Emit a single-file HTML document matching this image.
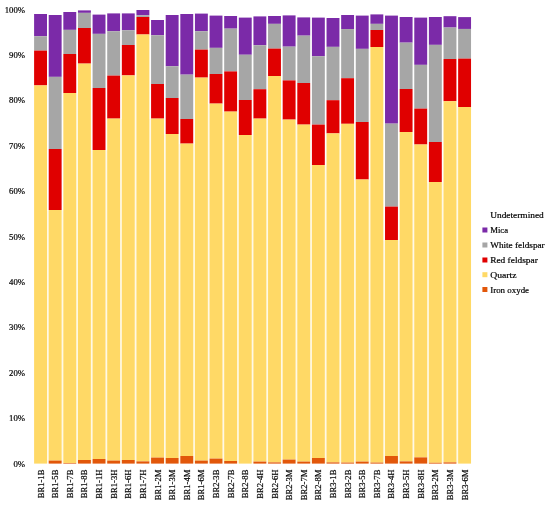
<!DOCTYPE html><html><head><meta charset="utf-8"><title>Chart</title><style>html,body{margin:0;padding:0;background:#fff}svg{display:block}text{font-family:"Liberation Serif",serif;fill:#000;stroke:#000;stroke-width:0.2px}</style></head><body>
<svg width="550" height="505" viewBox="0 0 550 505">
<rect width="550" height="505" fill="#fff"/>
<rect x="46.80" y="210.50" width="2.12" height="252.80" fill="#fff9e6"/>
<rect x="61.42" y="210.50" width="2.12" height="252.80" fill="#fff9e6"/>
<rect x="76.04" y="93.50" width="2.12" height="369.80" fill="#fff9e6"/>
<rect x="90.67" y="150.50" width="2.12" height="312.80" fill="#fff9e6"/>
<rect x="105.29" y="150.50" width="2.12" height="312.80" fill="#fff9e6"/>
<rect x="119.91" y="119.10" width="2.12" height="344.20" fill="#fff9e6"/>
<rect x="134.53" y="75.90" width="2.12" height="387.40" fill="#fff9e6"/>
<rect x="149.15" y="119.10" width="2.12" height="344.20" fill="#fff9e6"/>
<rect x="163.78" y="134.50" width="2.12" height="328.80" fill="#fff9e6"/>
<rect x="178.40" y="144.10" width="2.12" height="319.20" fill="#fff9e6"/>
<rect x="193.02" y="144.10" width="2.12" height="319.20" fill="#fff9e6"/>
<rect x="207.64" y="104.10" width="2.12" height="359.20" fill="#fff9e6"/>
<rect x="222.26" y="112.10" width="2.12" height="351.20" fill="#fff9e6"/>
<rect x="236.89" y="135.50" width="2.12" height="327.80" fill="#fff9e6"/>
<rect x="251.51" y="135.50" width="2.12" height="327.80" fill="#fff9e6"/>
<rect x="266.13" y="119.10" width="2.12" height="344.20" fill="#fff9e6"/>
<rect x="280.75" y="120.10" width="2.12" height="343.20" fill="#fff9e6"/>
<rect x="295.37" y="125.10" width="2.12" height="338.20" fill="#fff9e6"/>
<rect x="310.00" y="165.50" width="2.12" height="297.80" fill="#fff9e6"/>
<rect x="324.62" y="165.50" width="2.12" height="297.80" fill="#fff9e6"/>
<rect x="339.24" y="133.90" width="2.12" height="329.40" fill="#fff9e6"/>
<rect x="353.86" y="180.00" width="2.12" height="283.30" fill="#fff9e6"/>
<rect x="368.48" y="180.00" width="2.12" height="283.30" fill="#fff9e6"/>
<rect x="383.11" y="240.50" width="2.12" height="222.80" fill="#fff9e6"/>
<rect x="397.73" y="240.50" width="2.12" height="222.80" fill="#fff9e6"/>
<rect x="412.35" y="145.00" width="2.12" height="318.30" fill="#fff9e6"/>
<rect x="426.97" y="182.50" width="2.12" height="280.80" fill="#fff9e6"/>
<rect x="441.59" y="182.50" width="2.12" height="280.80" fill="#fff9e6"/>
<rect x="456.22" y="107.50" width="2.12" height="355.80" fill="#fff9e6"/>
<rect x="34.10" y="14.00" width="12.9" height="22.25" fill="#7b2aa8"/>
<rect x="34.10" y="36.25" width="12.9" height="14.35" fill="#a6a6a6"/>
<rect x="34.10" y="50.60" width="12.9" height="34.80" fill="#e00000"/>
<rect x="34.10" y="85.40" width="12.9" height="378.20" fill="#ffd966"/>
<rect x="48.72" y="15.00" width="12.9" height="61.85" fill="#7b2aa8"/>
<rect x="48.72" y="76.85" width="12.9" height="72.15" fill="#a6a6a6"/>
<rect x="48.72" y="149.00" width="12.9" height="61.00" fill="#e00000"/>
<rect x="48.72" y="210.00" width="12.9" height="250.60" fill="#ffd966"/>
<rect x="48.72" y="460.60" width="12.9" height="3.00" fill="#e2570a"/>
<rect x="63.34" y="12.00" width="12.9" height="17.85" fill="#7b2aa8"/>
<rect x="63.34" y="29.85" width="12.9" height="24.15" fill="#a6a6a6"/>
<rect x="63.34" y="54.00" width="12.9" height="39.00" fill="#e00000"/>
<rect x="63.34" y="93.00" width="12.9" height="370.00" fill="#ffd966"/>
<rect x="63.34" y="463.00" width="12.9" height="0.60" fill="#e2570a"/>
<rect x="77.97" y="10.40" width="12.9" height="2.45" fill="#7b2aa8"/>
<rect x="77.97" y="12.85" width="12.9" height="15.15" fill="#a6a6a6"/>
<rect x="77.97" y="28.00" width="12.9" height="35.60" fill="#e00000"/>
<rect x="77.97" y="63.60" width="12.9" height="396.40" fill="#ffd966"/>
<rect x="77.97" y="460.00" width="12.9" height="3.60" fill="#e2570a"/>
<rect x="92.59" y="14.60" width="12.9" height="19.25" fill="#7b2aa8"/>
<rect x="92.59" y="33.85" width="12.9" height="54.15" fill="#a6a6a6"/>
<rect x="92.59" y="88.00" width="12.9" height="62.00" fill="#e00000"/>
<rect x="92.59" y="150.00" width="12.9" height="309.00" fill="#ffd966"/>
<rect x="92.59" y="459.00" width="12.9" height="4.60" fill="#e2570a"/>
<rect x="107.21" y="13.40" width="12.9" height="17.85" fill="#7b2aa8"/>
<rect x="107.21" y="31.25" width="12.9" height="44.35" fill="#a6a6a6"/>
<rect x="107.21" y="75.60" width="12.9" height="43.00" fill="#e00000"/>
<rect x="107.21" y="118.60" width="12.9" height="342.00" fill="#ffd966"/>
<rect x="107.21" y="460.60" width="12.9" height="3.00" fill="#e2570a"/>
<rect x="121.83" y="13.40" width="12.9" height="16.85" fill="#7b2aa8"/>
<rect x="121.83" y="30.25" width="12.9" height="14.75" fill="#a6a6a6"/>
<rect x="121.83" y="45.00" width="12.9" height="30.40" fill="#e00000"/>
<rect x="121.83" y="75.40" width="12.9" height="384.60" fill="#ffd966"/>
<rect x="121.83" y="460.00" width="12.9" height="3.60" fill="#e2570a"/>
<rect x="136.45" y="10.00" width="12.9" height="5.25" fill="#7b2aa8"/>
<rect x="136.45" y="15.25" width="12.9" height="1.75" fill="#a6a6a6"/>
<rect x="136.45" y="17.00" width="12.9" height="17.50" fill="#e00000"/>
<rect x="136.45" y="34.50" width="12.9" height="426.90" fill="#ffd966"/>
<rect x="136.45" y="461.40" width="12.9" height="2.20" fill="#e2570a"/>
<rect x="151.08" y="20.00" width="12.9" height="15.25" fill="#7b2aa8"/>
<rect x="151.08" y="35.25" width="12.9" height="48.75" fill="#a6a6a6"/>
<rect x="151.08" y="84.00" width="12.9" height="34.60" fill="#e00000"/>
<rect x="151.08" y="118.60" width="12.9" height="339.00" fill="#ffd966"/>
<rect x="151.08" y="457.60" width="12.9" height="6.00" fill="#e2570a"/>
<rect x="165.70" y="15.00" width="12.9" height="51.25" fill="#7b2aa8"/>
<rect x="165.70" y="66.25" width="12.9" height="31.75" fill="#a6a6a6"/>
<rect x="165.70" y="98.00" width="12.9" height="36.00" fill="#e00000"/>
<rect x="165.70" y="134.00" width="12.9" height="324.00" fill="#ffd966"/>
<rect x="165.70" y="458.00" width="12.9" height="5.60" fill="#e2570a"/>
<rect x="180.32" y="14.00" width="12.9" height="60.65" fill="#7b2aa8"/>
<rect x="180.32" y="74.65" width="12.9" height="44.35" fill="#a6a6a6"/>
<rect x="180.32" y="119.00" width="12.9" height="24.60" fill="#e00000"/>
<rect x="180.32" y="143.60" width="12.9" height="312.40" fill="#ffd966"/>
<rect x="180.32" y="456.00" width="12.9" height="7.60" fill="#e2570a"/>
<rect x="194.94" y="13.60" width="12.9" height="17.65" fill="#7b2aa8"/>
<rect x="194.94" y="31.25" width="12.9" height="18.35" fill="#a6a6a6"/>
<rect x="194.94" y="49.60" width="12.9" height="28.00" fill="#e00000"/>
<rect x="194.94" y="77.60" width="12.9" height="383.00" fill="#ffd966"/>
<rect x="194.94" y="460.60" width="12.9" height="3.00" fill="#e2570a"/>
<rect x="209.56" y="15.60" width="12.9" height="32.25" fill="#7b2aa8"/>
<rect x="209.56" y="47.85" width="12.9" height="26.15" fill="#a6a6a6"/>
<rect x="209.56" y="74.00" width="12.9" height="29.60" fill="#e00000"/>
<rect x="209.56" y="103.60" width="12.9" height="355.00" fill="#ffd966"/>
<rect x="209.56" y="458.60" width="12.9" height="5.00" fill="#e2570a"/>
<rect x="224.19" y="16.00" width="12.9" height="12.65" fill="#7b2aa8"/>
<rect x="224.19" y="28.65" width="12.9" height="42.75" fill="#a6a6a6"/>
<rect x="224.19" y="71.40" width="12.9" height="40.20" fill="#e00000"/>
<rect x="224.19" y="111.60" width="12.9" height="349.40" fill="#ffd966"/>
<rect x="224.19" y="461.00" width="12.9" height="2.60" fill="#e2570a"/>
<rect x="238.81" y="17.60" width="12.9" height="37.15" fill="#7b2aa8"/>
<rect x="238.81" y="54.75" width="12.9" height="45.25" fill="#a6a6a6"/>
<rect x="238.81" y="100.00" width="12.9" height="35.00" fill="#e00000"/>
<rect x="238.81" y="135.00" width="12.9" height="328.60" fill="#ffd966"/>
<rect x="253.43" y="16.40" width="12.9" height="28.85" fill="#7b2aa8"/>
<rect x="253.43" y="45.25" width="12.9" height="43.95" fill="#a6a6a6"/>
<rect x="253.43" y="89.20" width="12.9" height="29.40" fill="#e00000"/>
<rect x="253.43" y="118.60" width="12.9" height="343.00" fill="#ffd966"/>
<rect x="253.43" y="461.60" width="12.9" height="2.00" fill="#e2570a"/>
<rect x="268.05" y="16.00" width="12.9" height="7.85" fill="#7b2aa8"/>
<rect x="268.05" y="23.85" width="12.9" height="24.75" fill="#a6a6a6"/>
<rect x="268.05" y="48.60" width="12.9" height="27.40" fill="#e00000"/>
<rect x="268.05" y="76.00" width="12.9" height="386.40" fill="#ffd966"/>
<rect x="268.05" y="462.40" width="12.9" height="1.20" fill="#e2570a"/>
<rect x="282.67" y="15.40" width="12.9" height="31.25" fill="#7b2aa8"/>
<rect x="282.67" y="46.65" width="12.9" height="33.75" fill="#a6a6a6"/>
<rect x="282.67" y="80.40" width="12.9" height="39.20" fill="#e00000"/>
<rect x="282.67" y="119.60" width="12.9" height="340.00" fill="#ffd966"/>
<rect x="282.67" y="459.60" width="12.9" height="4.00" fill="#e2570a"/>
<rect x="297.30" y="17.40" width="12.9" height="18.25" fill="#7b2aa8"/>
<rect x="297.30" y="35.65" width="12.9" height="47.35" fill="#a6a6a6"/>
<rect x="297.30" y="83.00" width="12.9" height="41.60" fill="#e00000"/>
<rect x="297.30" y="124.60" width="12.9" height="337.00" fill="#ffd966"/>
<rect x="297.30" y="461.60" width="12.9" height="2.00" fill="#e2570a"/>
<rect x="311.92" y="17.60" width="12.9" height="38.65" fill="#7b2aa8"/>
<rect x="311.92" y="56.25" width="12.9" height="68.35" fill="#a6a6a6"/>
<rect x="311.92" y="124.60" width="12.9" height="40.40" fill="#e00000"/>
<rect x="311.92" y="165.00" width="12.9" height="293.00" fill="#ffd966"/>
<rect x="311.92" y="458.00" width="12.9" height="5.60" fill="#e2570a"/>
<rect x="326.54" y="18.00" width="12.9" height="28.85" fill="#7b2aa8"/>
<rect x="326.54" y="46.85" width="12.9" height="53.35" fill="#a6a6a6"/>
<rect x="326.54" y="100.20" width="12.9" height="33.20" fill="#e00000"/>
<rect x="326.54" y="133.40" width="12.9" height="329.00" fill="#ffd966"/>
<rect x="326.54" y="462.40" width="12.9" height="1.20" fill="#e2570a"/>
<rect x="341.16" y="15.00" width="12.9" height="14.05" fill="#7b2aa8"/>
<rect x="341.16" y="29.05" width="12.9" height="49.15" fill="#a6a6a6"/>
<rect x="341.16" y="78.20" width="12.9" height="45.60" fill="#e00000"/>
<rect x="341.16" y="123.80" width="12.9" height="338.80" fill="#ffd966"/>
<rect x="341.16" y="462.60" width="12.9" height="1.00" fill="#e2570a"/>
<rect x="355.78" y="15.60" width="12.9" height="33.25" fill="#7b2aa8"/>
<rect x="355.78" y="48.85" width="12.9" height="73.15" fill="#a6a6a6"/>
<rect x="355.78" y="122.00" width="12.9" height="57.50" fill="#e00000"/>
<rect x="355.78" y="179.50" width="12.9" height="282.10" fill="#ffd966"/>
<rect x="355.78" y="461.60" width="12.9" height="2.00" fill="#e2570a"/>
<rect x="370.41" y="14.40" width="12.9" height="9.45" fill="#7b2aa8"/>
<rect x="370.41" y="23.85" width="12.9" height="6.15" fill="#a6a6a6"/>
<rect x="370.41" y="30.00" width="12.9" height="17.00" fill="#e00000"/>
<rect x="370.41" y="47.00" width="12.9" height="415.60" fill="#ffd966"/>
<rect x="370.41" y="462.60" width="12.9" height="1.00" fill="#e2570a"/>
<rect x="385.03" y="15.60" width="12.9" height="108.05" fill="#7b2aa8"/>
<rect x="385.03" y="123.65" width="12.9" height="82.95" fill="#a6a6a6"/>
<rect x="385.03" y="206.60" width="12.9" height="33.40" fill="#e00000"/>
<rect x="385.03" y="240.00" width="12.9" height="216.00" fill="#ffd966"/>
<rect x="385.03" y="456.00" width="12.9" height="7.60" fill="#e2570a"/>
<rect x="399.65" y="17.00" width="12.9" height="25.65" fill="#7b2aa8"/>
<rect x="399.65" y="42.65" width="12.9" height="46.35" fill="#a6a6a6"/>
<rect x="399.65" y="89.00" width="12.9" height="43.00" fill="#e00000"/>
<rect x="399.65" y="132.00" width="12.9" height="329.40" fill="#ffd966"/>
<rect x="399.65" y="461.40" width="12.9" height="2.20" fill="#e2570a"/>
<rect x="414.27" y="17.60" width="12.9" height="47.25" fill="#7b2aa8"/>
<rect x="414.27" y="64.85" width="12.9" height="43.75" fill="#a6a6a6"/>
<rect x="414.27" y="108.60" width="12.9" height="35.90" fill="#e00000"/>
<rect x="414.27" y="144.50" width="12.9" height="312.90" fill="#ffd966"/>
<rect x="414.27" y="457.40" width="12.9" height="6.20" fill="#e2570a"/>
<rect x="428.89" y="17.00" width="12.9" height="27.85" fill="#7b2aa8"/>
<rect x="428.89" y="44.85" width="12.9" height="97.15" fill="#a6a6a6"/>
<rect x="428.89" y="142.00" width="12.9" height="40.00" fill="#e00000"/>
<rect x="428.89" y="182.00" width="12.9" height="280.80" fill="#ffd966"/>
<rect x="428.89" y="462.80" width="12.9" height="0.80" fill="#e2570a"/>
<rect x="443.52" y="16.20" width="12.9" height="11.35" fill="#7b2aa8"/>
<rect x="443.52" y="27.55" width="12.9" height="31.45" fill="#a6a6a6"/>
<rect x="443.52" y="59.00" width="12.9" height="42.20" fill="#e00000"/>
<rect x="443.52" y="101.20" width="12.9" height="361.20" fill="#ffd966"/>
<rect x="443.52" y="462.40" width="12.9" height="1.20" fill="#e2570a"/>
<rect x="458.14" y="17.10" width="12.9" height="11.85" fill="#7b2aa8"/>
<rect x="458.14" y="28.95" width="12.9" height="29.65" fill="#a6a6a6"/>
<rect x="458.14" y="58.60" width="12.9" height="48.40" fill="#e00000"/>
<rect x="458.14" y="107.00" width="12.9" height="356.60" fill="#ffd966"/>
<text x="25" y="466.6" font-size="8.7" text-anchor="end">0%</text>
<text x="25" y="421.2" font-size="8.7" text-anchor="end">10%</text>
<text x="25" y="375.8" font-size="8.7" text-anchor="end">20%</text>
<text x="25" y="330.4" font-size="8.7" text-anchor="end">30%</text>
<text x="25" y="285.0" font-size="8.7" text-anchor="end">40%</text>
<text x="25" y="239.6" font-size="8.7" text-anchor="end">50%</text>
<text x="25" y="194.2" font-size="8.7" text-anchor="end">60%</text>
<text x="25" y="148.8" font-size="8.7" text-anchor="end">70%</text>
<text x="25" y="103.4" font-size="8.7" text-anchor="end">80%</text>
<text x="25" y="58.0" font-size="8.7" text-anchor="end">90%</text>
<text x="25" y="12.6" font-size="8.7" text-anchor="end">100%</text>
<text transform="translate(43.55,469.6) rotate(-90)" font-size="8.6" text-anchor="end">BR1-1B</text>
<text transform="translate(58.17,469.6) rotate(-90)" font-size="8.6" text-anchor="end">BR1-5B</text>
<text transform="translate(72.79,469.6) rotate(-90)" font-size="8.6" text-anchor="end">BR1-7B</text>
<text transform="translate(87.42,469.6) rotate(-90)" font-size="8.6" text-anchor="end">BR1-8B</text>
<text transform="translate(102.04,469.6) rotate(-90)" font-size="8.6" text-anchor="end">BR1-1H</text>
<text transform="translate(116.66,469.6) rotate(-90)" font-size="8.6" text-anchor="end">BR1-3H</text>
<text transform="translate(131.28,469.6) rotate(-90)" font-size="8.6" text-anchor="end">BR1-6H</text>
<text transform="translate(145.90,469.6) rotate(-90)" font-size="8.6" text-anchor="end">BR1-7H</text>
<text transform="translate(160.53,469.6) rotate(-90)" font-size="8.6" text-anchor="end">BR1-2M</text>
<text transform="translate(175.15,469.6) rotate(-90)" font-size="8.6" text-anchor="end">BR1-3M</text>
<text transform="translate(189.77,469.6) rotate(-90)" font-size="8.6" text-anchor="end">BR1-4M</text>
<text transform="translate(204.39,469.6) rotate(-90)" font-size="8.6" text-anchor="end">BR1-6M</text>
<text transform="translate(219.01,469.6) rotate(-90)" font-size="8.6" text-anchor="end">BR2-3B</text>
<text transform="translate(233.64,469.6) rotate(-90)" font-size="8.6" text-anchor="end">BR2-7B</text>
<text transform="translate(248.26,469.6) rotate(-90)" font-size="8.6" text-anchor="end">BR2-8B</text>
<text transform="translate(262.88,469.6) rotate(-90)" font-size="8.6" text-anchor="end">BR2-4H</text>
<text transform="translate(277.50,469.6) rotate(-90)" font-size="8.6" text-anchor="end">BR2-6H</text>
<text transform="translate(292.12,469.6) rotate(-90)" font-size="8.6" text-anchor="end">BR2-3M</text>
<text transform="translate(306.75,469.6) rotate(-90)" font-size="8.6" text-anchor="end">BR2-7M</text>
<text transform="translate(321.37,469.6) rotate(-90)" font-size="8.6" text-anchor="end">BR2-8M</text>
<text transform="translate(335.99,469.6) rotate(-90)" font-size="8.6" text-anchor="end">BR3-1B</text>
<text transform="translate(350.61,469.6) rotate(-90)" font-size="8.6" text-anchor="end">BR3-2B</text>
<text transform="translate(365.23,469.6) rotate(-90)" font-size="8.6" text-anchor="end">BR3-5B</text>
<text transform="translate(379.86,469.6) rotate(-90)" font-size="8.6" text-anchor="end">BR3-7B</text>
<text transform="translate(394.48,469.6) rotate(-90)" font-size="8.6" text-anchor="end">BR3-4H</text>
<text transform="translate(409.10,469.6) rotate(-90)" font-size="8.6" text-anchor="end">BR3-5H</text>
<text transform="translate(423.72,469.6) rotate(-90)" font-size="8.6" text-anchor="end">BR3-8H</text>
<text transform="translate(438.34,469.6) rotate(-90)" font-size="8.6" text-anchor="end">BR3-2M</text>
<text transform="translate(452.97,469.6) rotate(-90)" font-size="8.6" text-anchor="end">BR3-3M</text>
<text transform="translate(467.59,469.6) rotate(-90)" font-size="8.6" text-anchor="end">BR3-6M</text>
<text x="490.2" y="218.3" font-size="9" textLength="53.6" lengthAdjust="spacingAndGlyphs">Undetermined</text>
<rect x="482.4" y="227.5" width="5" height="5" fill="#7b2aa8"/>
<text x="490.2" y="233.0" font-size="9" textLength="17.9" lengthAdjust="spacingAndGlyphs">Mica</text>
<rect x="482.4" y="242.5" width="5" height="5" fill="#a6a6a6"/>
<text x="490.2" y="248.0" font-size="9" textLength="54.5" lengthAdjust="spacingAndGlyphs">White feldspar</text>
<rect x="482.4" y="257.5" width="5" height="5" fill="#e00000"/>
<text x="490.2" y="263.0" font-size="9" textLength="47.6" lengthAdjust="spacingAndGlyphs">Red feldspar</text>
<rect x="482.4" y="272.2" width="5" height="5" fill="#ffd966"/>
<text x="490.2" y="277.7" font-size="9" textLength="26.3" lengthAdjust="spacingAndGlyphs">Quartz</text>
<rect x="482.4" y="287.0" width="5" height="5" fill="#e2570a"/>
<text x="490.2" y="292.5" font-size="9" textLength="38.9" lengthAdjust="spacingAndGlyphs">Iron oxyde</text>
</svg></body></html>
